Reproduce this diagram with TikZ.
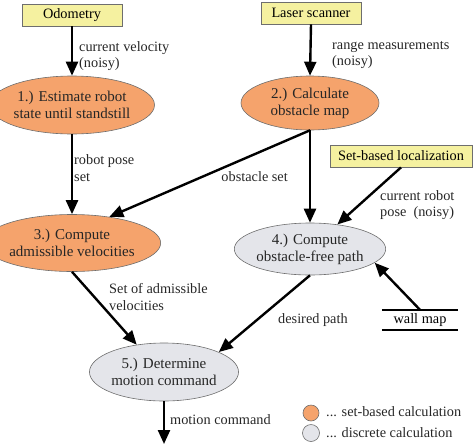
\documentclass[tikz,border=0pt]{standalone}
\usepackage{fontspec}
\setmainfont{Liberation Serif}
\usetikzlibrary{shapes.geometric,arrows.meta}
\definecolor{setorange}{RGB}{245,163,108}
\definecolor{discgray}{RGB}{228,229,234}
\definecolor{boxyellow}{RGB}{245,241,160}
\definecolor{edgegray}{RGB}{110,110,110}
\begin{document}
\begin{tikzpicture}[x=1pt,y=-1pt,
  every node/.style={font=\fontsize{14.3}{16.5}\selectfont},
  srcbox/.style={draw=edgegray,line width=0.8pt,fill=boxyellow,rectangle,inner sep=0pt,minimum height=22pt},
  ellfont/.style={font=\fontsize{15}{17}\selectfont},
  setell/.style={ellipse,draw=edgegray,line width=0.6pt,fill=setorange,inner sep=0pt,align=center,text=black!85,ellfont},
  discell/.style={ellipse,draw=edgegray,line width=0.6pt,fill=discgray,inner sep=0pt,align=center,text=black!85,ellfont},
  conn/.style={line width=2.4pt,-{Triangle[length=14pt,width=12pt]}},
  lbl/.style={align=left,inner sep=0pt,anchor=west,text=black!85},
  wallline/.style={line width=2.4pt}
]
\useasboundingbox (0,0) rectangle (474,445);

% sources
\node[srcbox,minimum width=100pt] (odo) at (72,15) {Odometry};
\node[srcbox,minimum width=100pt] (laser) at (311,13) {Laser scanner};
\node[srcbox,minimum width=142pt] (loc) at (401,156) {Set-based localization};

% processing ellipses
\node[setell,minimum width=138pt,minimum height=58pt] (e1) at (72,105) {1.) Estimate robot\\state until standstill};
\node[setell,minimum width=138pt,minimum height=54pt] (e2) at (310,103) {2.) Calculate\\obstacle map};
\node[setell,minimum width=140pt,minimum height=57pt] (e3) at (72,243) {3.) Compute\\admissible velocities};
\node[discell,minimum width=136pt,minimum height=52pt] (e4) at (310,249) {4.) Compute\\obstacle-free path};
\node[discell,minimum width=140pt,minimum height=58pt] (e5) at (164,372) {5.) Determine\\motion command};

% wall map
\node[minimum width=76pt,minimum height=20pt,inner sep=0pt] (wall) at (420,320) {wall map};
\draw[wallline] (wall.north west) -- (wall.north east);
\draw[wallline] (wall.south west) -- (wall.south east);

\coordinate (out) at (164,444);

% connectors
\draw[conn] (odo.south) -- (e1.north);
\draw[conn] (laser.south) -- (e2.north);
\draw[conn] (e1.south) -- (e3.north);
\draw[conn] (e2.south) -- (e3.35);
\draw[conn] (e2.south) -- (e4.north);
\draw[conn] (loc.south) -- (e4);
\draw[conn] (wall.north) -- (e4.-12);
\draw[conn] (e3.south) -- (e5.135);
\draw[conn] (e4.south) -- (e5.20);
\draw[conn] (e5.south) -- (out);

% labels
\node[lbl] (l1) at (79,56) {current velocity\\(noisy)};
\node[lbl] (l2) at (332,55) {range measurements\\(noisy)};
\node[lbl] (l3) at (74,168) {robot pose\\set};
\node[lbl,anchor=east] (l4) at (288,177) {obstacle set};
\node[lbl] (l5) at (380,205) {current robot\\pose\ \ (noisy)};
\node[lbl] (l6) at (109,297) {Set of admissible\\velocities};
\node[lbl] (l7) at (278,320) {desired path};
\node[lbl] (l8) at (170,420) {motion command};

% legend
\node[circle,draw=edgegray,line width=0.6pt,fill=setorange,minimum size=16pt,inner sep=0pt] (lg1) at (311,413) {};
\node[circle,draw=edgegray,line width=0.6pt,fill=discgray,minimum size=17pt,inner sep=0pt] (lg2) at (311,433) {};
\node[lbl] (lt1) at (326,412) {... set-based calculation};
\node[lbl] (lt2) at (326,433) {... discrete calculation};
\end{tikzpicture}
\end{document}
